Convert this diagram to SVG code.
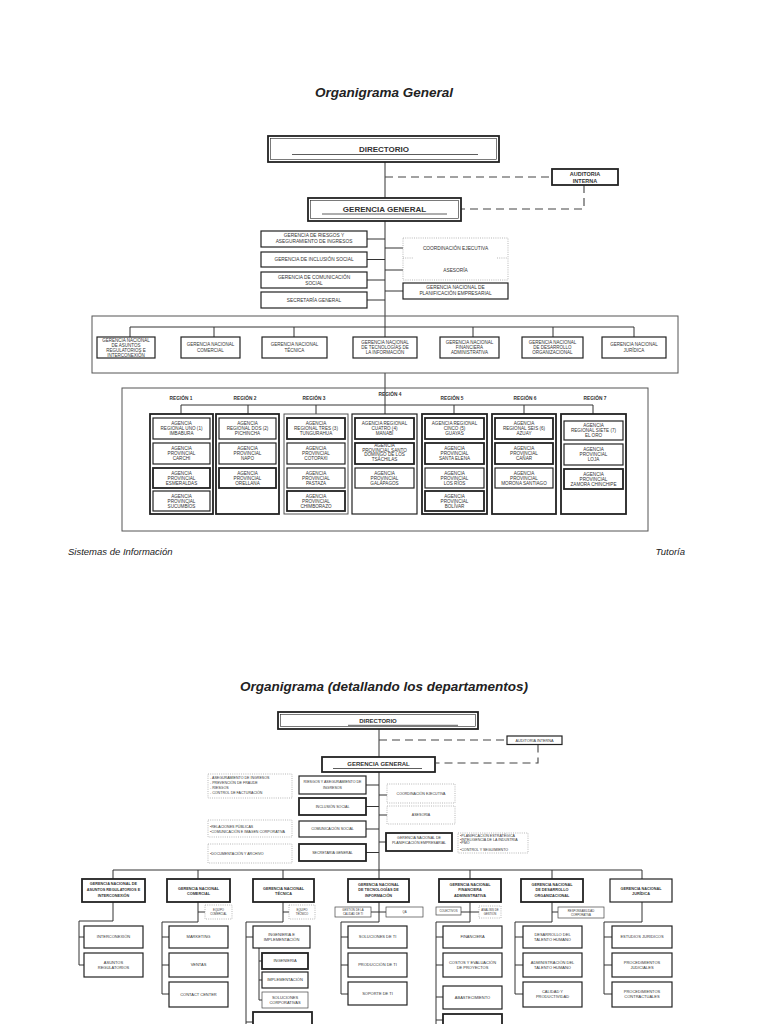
<svg xmlns="http://www.w3.org/2000/svg" width="768" height="1024" viewBox="0 0 768 1024">
<style>
text{font-family:"Liberation Sans",Arial,sans-serif;fill:#333;text-anchor:middle}
.title{font-size:13.5px;font-weight:bold;font-style:italic;fill:#222}
.foot{font-size:9.5px;font-style:italic;fill:#222}
.b{fill:#fff;stroke:#222;stroke-width:1.2}
.bt{fill:#fff;stroke:#222;stroke-width:1.8}
.bn{fill:#fff;stroke:#444;stroke-width:0.7}
.in{fill:none;stroke:#222;stroke-width:0.6}
.frame{fill:none;stroke:#555;stroke-width:1}
.dot{fill:none;stroke:#999;stroke-width:0.7;stroke-dasharray:1 1.2}
.ul{stroke:#333;stroke-width:0.8}
.ln{fill:none;stroke:#333;stroke-width:1}
.dash{fill:none;stroke:#444;stroke-width:1.1;stroke-dasharray:8 5}
.l{text-anchor:start}
</style>

<text x="384" y="97" class="title">Organigrama General</text>

<g id="connectors-top">
<path class="ln" d="M385 162V198M385 221V337M385 373V414M367 239H385M367 259.5H385M367 280H385M367 300H385M385 248H403M385 270H403M385 291H403M130 327H634M130 327V337M214 327V337M294 327V337M473 327V337M553 327V337M634 327V337M181 405H593M181 405V414M248 405V414M316 405V414M454 405V414M524 405V414M593 405V414"/>
<path class="dash" d="M385 177H552M584 185V209H461"/>
</g>

<g id="t-directorio">
<rect x="268" y="136" width="231" height="26" class="bt"/>
<rect x="270.5" y="138.5" width="226" height="21" class="in"/>
<text x="384" y="151.5" font-size="8" font-weight="bold">DIRECTORIO</text>
<line x1="292" y1="154.5" x2="478" y2="154.5" class="ul"/>
</g>
<g id="t-auditoria">
<rect x="552" y="169" width="66" height="16" class="bt"/>
<text x="585" y="175.5" font-size="5.5" font-weight="bold">AUDITORIA</text>
<text x="585" y="182.5" font-size="5.5" font-weight="bold">INTERNA</text>
</g>
<g id="t-gerencia-general">
<rect x="308" y="198" width="153" height="23" class="bt"/>
<rect x="310.5" y="200.5" width="148" height="18" class="in"/>
<text x="384.5" y="212" font-size="8" font-weight="bold">GERENCIA GENERAL</text>
<line x1="322" y1="214" x2="447" y2="214" class="ul"/>
</g>

<g font-size="4.8">
<g id="t-riesgos"><rect x="261" y="231" width="106" height="16" class="b"/><text x="314" y="237">GERENCIA DE RIESGOS Y</text><text x="314" y="242.8">ASEGURAMIENTO DE INGRESOS</text></g>
<g id="t-inclusion"><rect x="261" y="252" width="106" height="15" class="b"/><text x="314" y="261.2">GERENCIA DE INCLUSIÓN SOCIAL</text></g>
<g id="t-comunicacion"><rect x="261" y="272" width="106" height="16" class="b"/><text x="314" y="278.5">GERENCIA DE COMUNICACIÓN</text><text x="314" y="284.8">SOCIAL</text></g>
<g id="t-secretaria"><rect x="261" y="292" width="106" height="16" class="b"/><text x="314" y="301.7">SECRETARÍA GENERAL</text></g>
<g id="t-coordinacion"><rect x="403" y="238" width="105" height="42" class="dot"/><path class="dot" d="M403 258H413M497 258H508"/><text x="455.5" y="250">COORDINACIÓN EJECUTIVA</text><text x="455.5" y="271.7">ASESORÍA</text></g>
<g id="t-planificacion"><rect x="403" y="283" width="105" height="16" class="b"/><text x="455.5" y="288.6">GERENCIA NACIONAL DE</text><text x="455.5" y="295">PLANIFICACIÓN EMPRESARIAL</text></g>
</g>

<rect id="t-frame-gerencias" x="92" y="316" width="586" height="57" class="frame"/>
<g font-size="4.5">
<g id="t-gn-regulatorios"><rect x="97" y="337" width="58" height="21" class="b"/><text x="126" y="341.6">GERENCIA NACIONAL</text><text x="126" y="346.6">DE ASUNTOS</text><text x="126" y="351.6">REGULATORIOS E</text><text x="126" y="356.6">INTERCONEXIÓN</text></g>
<g id="t-gn-comercial"><rect x="181" y="337" width="59" height="21" class="b"/><text x="210.5" y="346">GERENCIA NACIONAL</text><text x="210.5" y="351.7">COMERCIAL</text></g>
<g id="t-gn-tecnica"><rect x="262" y="337" width="65" height="21" class="b"/><text x="294.5" y="346">GERENCIA NACIONAL</text><text x="294.5" y="351.7">TÉCNICA</text></g>
<g id="t-gn-ti"><rect x="353" y="337" width="64" height="21" class="b"/><text x="385" y="343.6">GERENCIA NACIONAL</text><text x="385" y="348.6">DE TECNOLOGÍAS DE</text><text x="385" y="353.6">LA INFORMACIÓN</text></g>
<g id="t-gn-financiera"><rect x="440" y="337" width="59" height="21" class="b"/><text x="469.5" y="343.6">GERENCIA NACIONAL</text><text x="469.5" y="348.6">FINANCIERA</text><text x="469.5" y="353.6">ADMINISTRATIVA</text></g>
<g id="t-gn-desarrollo"><rect x="522" y="337" width="61" height="21" class="b"/><text x="552.5" y="343.6">GERENCIA NACIONAL</text><text x="552.5" y="348.6">DE DESARROLLO</text><text x="552.5" y="353.6">ORGANIZACIONAL</text></g>
<g id="t-gn-juridica"><rect x="602" y="337" width="64" height="21" class="b"/><text x="634" y="346">GERENCIA NACIONAL</text><text x="634" y="351.7">JURÍDICA</text></g>
</g>

<rect id="t-frame-regiones" x="122" y="388" width="526" height="143" class="frame"/>
<g font-size="4.8" font-weight="bold">
<text x="181" y="400">REGIÓN 1</text><text x="245" y="400">REGIÓN 2</text><text x="314" y="400">REGIÓN 3</text><text x="390" y="395.5">REGIÓN 4</text><text x="452" y="400">REGIÓN 5</text><text x="525" y="400">REGIÓN 6</text><text x="595" y="400">REGIÓN 7</text>
</g>

<g font-size="4.6">
<g id="t-region1">
<rect x="150" y="414" width="63" height="100" class="bt"/>
<rect x="153" y="418" width="57" height="21" class="b"/><text x="181.5" y="425.1">AGENCIA</text><text x="181.5" y="430.1">REGIONAL UNO (1)</text><text x="181.5" y="435.1">IMBABURA</text>
<rect x="153" y="443" width="57" height="21" class="b"/><text x="181.5" y="450.1">AGENCIA</text><text x="181.5" y="455.1">PROVINCIAL</text><text x="181.5" y="460.1">CARCHI</text>
<rect x="153" y="468" width="57" height="20" class="bt"/><text x="181.5" y="474.6">AGENCIA</text><text x="181.5" y="479.6">PROVINCIAL</text><text x="181.5" y="484.6">ESMERALDAS</text>
<rect x="153" y="491" width="57" height="20" class="b"/><text x="181.5" y="497.6">AGENCIA</text><text x="181.5" y="502.6">PROVINCIAL</text><text x="181.5" y="507.6">SUCUMBÍOS</text>
</g>
<g id="t-region2">
<rect x="216" y="414" width="63" height="100" class="bt"/>
<rect x="219" y="418" width="57" height="21" class="b"/><text x="247.5" y="425.1">AGENCIA</text><text x="247.5" y="430.1">REGIONAL DOS (2)</text><text x="247.5" y="435.1">PICHINCHA</text>
<rect x="219" y="443" width="57" height="21" class="b"/><text x="247.5" y="450.1">AGENCIA</text><text x="247.5" y="455.1">PROVINCIAL</text><text x="247.5" y="460.1">NAPO</text>
<rect x="219" y="468" width="57" height="20" class="bt"/><text x="247.5" y="474.6">AGENCIA</text><text x="247.5" y="479.6">PROVINCIAL</text><text x="247.5" y="484.6">ORELLANA</text>
</g>
<g id="t-region3">
<rect x="284" y="414" width="64" height="100" class="frame"/>
<rect x="287" y="418" width="58" height="21" class="bt"/><text x="316" y="425.1">AGENCIA</text><text x="316" y="430.1">REGIONAL TRES (3)</text><text x="316" y="435.1">TUNGURAHUA</text>
<rect x="287" y="443" width="58" height="21" class="b"/><text x="316" y="450.1">AGENCIA</text><text x="316" y="455.1">PROVINCIAL</text><text x="316" y="460.1">COTOPAXI</text>
<rect x="287" y="468" width="58" height="20" class="b"/><text x="316" y="474.6">AGENCIA</text><text x="316" y="479.6">PROVINCIAL</text><text x="316" y="484.6">PASTAZA</text>
<rect x="287" y="491" width="58" height="20" class="bt"/><text x="316" y="497.6">AGENCIA</text><text x="316" y="502.6">PROVINCIAL</text><text x="316" y="507.6">CHIMBORAZO</text>
</g>
<g id="t-region4">
<rect x="352" y="414" width="65" height="100" class="b"/>
<rect x="355" y="418" width="59" height="21" class="bt"/><text x="384.5" y="425.1">AGENCIA REGIONAL</text><text x="384.5" y="430.1">CUATRO (4)</text><text x="384.5" y="435.1">MANABÍ</text>
<rect x="355" y="443" width="59" height="21" class="bt"/><text x="384.5" y="447.2">AGENCIA</text><text x="384.5" y="451.8">PROVINCIAL SANTO</text><text x="384.5" y="456.4">DOMINGO DE LOS</text><text x="384.5" y="461">TSÁCHILAS</text>
<rect x="355" y="468" width="59" height="20" class="b"/><text x="384.5" y="474.6">AGENCIA</text><text x="384.5" y="479.6">PROVINCIAL</text><text x="384.5" y="484.6">GALÁPAGOS</text>
</g>
<g id="t-region5">
<rect x="422" y="414" width="65" height="100" class="bt"/>
<rect x="425" y="418" width="59" height="21" class="bt"/><text x="454.5" y="425.1">AGENCIA REGIONAL</text><text x="454.5" y="430.1">CINCO (5)</text><text x="454.5" y="435.1">GUAYAS</text>
<rect x="425" y="443" width="59" height="21" class="bt"/><text x="454.5" y="450.1">AGENCIA</text><text x="454.5" y="455.1">PROVINCIAL</text><text x="454.5" y="460.1">SANTA ELENA</text>
<rect x="425" y="468" width="59" height="20" class="b"/><text x="454.5" y="474.6">AGENCIA</text><text x="454.5" y="479.6">PROVINCIAL</text><text x="454.5" y="484.6">LOS RÍOS</text>
<rect x="425" y="491" width="59" height="20" class="bt"/><text x="454.5" y="497.6">AGENCIA</text><text x="454.5" y="502.6">PROVINCIAL</text><text x="454.5" y="507.6">BOLÍVAR</text>
</g>
<g id="t-region6">
<rect x="492" y="414" width="64" height="100" class="bt"/>
<rect x="495" y="418" width="58" height="21" class="bt"/><text x="524" y="425.1">AGENCIA</text><text x="524" y="430.1">REGIONAL SEIS (6)</text><text x="524" y="435.1">AZUAY</text>
<rect x="495" y="443" width="58" height="21" class="bt"/><text x="524" y="450.1">AGENCIA</text><text x="524" y="455.1">PROVINCIAL</text><text x="524" y="460.1">CAÑAR</text>
<rect x="495" y="468" width="58" height="20" class="b"/><text x="524" y="474.6">AGENCIA</text><text x="524" y="479.6">PROVINCIAL</text><text x="524" y="484.6">MORONA SANTIAGO</text>
</g>
<g id="t-region7">
<rect x="561" y="414" width="65" height="100" class="bt"/>
<rect x="564" y="421" width="59" height="19" class="b"/><text x="593.5" y="426.6">AGENCIA</text><text x="593.5" y="431.6">REGIONAL SIETE (7)</text><text x="593.5" y="436.6">EL ORO</text>
<rect x="564" y="444" width="59" height="21" class="b"/><text x="593.5" y="451.1">AGENCIA</text><text x="593.5" y="456.1">PROVINCIAL</text><text x="593.5" y="461.1">LOJA</text>
<rect x="564" y="469" width="59" height="20" class="bt"/><text x="593.5" y="475.6">AGENCIA</text><text x="593.5" y="480.6">PROVINCIAL</text><text x="593.5" y="485.6">ZAMORA CHINCHIPE</text>
</g>
</g>

<text x="68" y="555" class="foot l">Sistemas de Información</text>
<text x="685" y="555" class="foot" style="text-anchor:end">Tutoría</text>

<text x="384" y="691" class="title">Organigrama (detallando los departamentos)</text>

<g id="connectors-bottom">
<path class="ln" d="M379 729V757M379 772V879M366 785H379M366 806.5H379M366 829H379M366 852.5H379M379 795H387M379 815H387M379 842H386M113 870H642M113 870V879M198 870V879M283 870V879M470 870V879M552 870V879M642 870V879"/>
<path class="dash" d="M379 740H507M538 744.5V763H436"/>
<path class="ln" d="M113 902V921H79V965M79 937H84M79 965H84"/>
<path class="ln" d="M198 902V922H162V994M162 937H169M162 965H169M162 994H169M198 912H205"/>
<path class="ln" d="M283 902V922H246V1024M246 937H253M246 1022H253M283 912H289M259 948V1000M259 961H262M259 980H262M259 1000H262"/>
<path class="ln" d="M379 902V922H341V994M341 937H348M341 965H348M341 994H348M371 912H386"/>
<path class="ln" d="M470 902V922H436V1024M436 937H443M436 965H443M436 997H443M436 1020H443M461 912H479"/>
<path class="ln" d="M552 902V922H515V994M515 937H523M515 965H523M515 994H523M552 912H558"/>
<path class="ln" d="M642 902V922H604V994M604 937H612M604 965H612M604 994H612"/>
</g>

<g id="b-directorio">
<rect x="278" y="712" width="200" height="17" class="bt"/>
<rect x="280.5" y="714.5" width="195" height="12" class="in"/>
<text x="378" y="723" font-size="6" font-weight="bold">DIRECTORIO</text>
<line x1="348" y1="725.3" x2="458" y2="725.3" class="ul"/>
</g>
<g id="b-auditoria">
<rect x="507" y="736" width="55" height="8.5" class="b"/>
<text x="534.5" y="741.6" font-size="3.8">AUDITORÍA INTERNA</text>
</g>
<g id="b-gerencia-general">
<rect x="322" y="757" width="113" height="15" class="bt"/>
<text x="378.5" y="766.4" font-size="6" font-weight="bold">GERENCIA GENERAL</text>
<line x1="333" y1="768.5" x2="422" y2="768.5" class="ul"/>
</g>

<g font-size="3.6">
<g id="b-riesgos"><rect x="299" y="776" width="67" height="18" class="b"/><text x="332.5" y="783">RIESGOS Y ASEGURAMIENTO DE</text><text x="332.5" y="789.3">INGRESOS</text></g>
<g id="b-inclusion"><rect x="299" y="798" width="67" height="17" class="bt"/><text x="332.5" y="807.8">INCLUSIÓN SOCIAL</text></g>
<g id="b-comunicacion"><rect x="299" y="821" width="67" height="16" class="b"/><text x="332.5" y="830.3">COMUNICACIÓN SOCIAL</text></g>
<g id="b-secretaria"><rect x="299" y="844" width="67" height="17" class="bt"/><text x="332.5" y="853.8">SECRETARÍA GENERAL</text></g>
<g id="b-nota-riesgos"><rect x="208" y="774" width="84" height="24" class="dot"/><text x="210" y="779" class="l">- ASEGURAMIENTO DE INGRESOS</text><text x="210" y="784" class="l">- PREVENCIÓN DE FRAUDE</text><text x="210" y="788.7" class="l">- RIESGOS</text><text x="210" y="794" class="l">- CONTROL DE FACTURACIÓN</text></g>
<g id="b-nota-comunicacion"><rect x="208" y="820" width="84" height="17" class="dot"/><text x="210" y="828" class="l">•RELACIONES PÚBLICAS</text><text x="210" y="833" class="l">•COMUNICACIÓN E IMAGEN CORPORATIVA</text></g>
<g id="b-nota-secretaria"><rect x="208" y="844" width="84" height="19" class="dot"/><text x="210" y="855.3" class="l">•DOCUMENTACIÓN Y ARCHIVO</text></g>
<g id="b-coordinacion"><rect x="387" y="784" width="68" height="19" class="dot"/><text x="421" y="794.6">COORDINACIÓN EJECUTIVA</text></g>
<g id="b-asesoria"><rect x="387" y="806" width="68" height="18" class="dot"/><text x="421" y="815.6">ASESORÍA</text></g>
<g id="b-planificacion"><rect x="386" y="833" width="66" height="18" class="bt"/><text x="419" y="839.3">GERENCIA NACIONAL DE</text><text x="419" y="844.3">PLANIFICACIÓN EMPRESARIAL</text></g>
<g id="b-nota-planificacion"><rect x="458" y="833" width="70" height="20" class="dot"/><text x="460" y="836.6" class="l">•PLANIFICACIÓN ESTRATÉGICA</text><text x="460" y="840.6" class="l">•INTELIGENCIA DE LA INDUSTRIA</text><text x="460" y="844.4" class="l">•PMO</text><text x="460" y="850.6" class="l">•CONTROL Y SEGUIMIENTO</text></g>
</g>

<g font-size="3.8" font-weight="bold">
<g id="b-gn-regulatorios"><rect x="82" y="879" width="63" height="23" class="bt"/><text x="113.5" y="885.3">GERENCIA NACIONAL DE</text><text x="113.5" y="890.6">ASUNTOS REGULATORIOS E</text><text x="113.5" y="897.3">INTERCONEXIÓN</text></g>
<g id="b-gn-comercial"><rect x="167" y="879" width="63" height="23" class="bt"/><text x="198.5" y="889.6">GERENCIA NACIONAL</text><text x="198.5" y="895.3">COMERCIAL</text></g>
<g id="b-gn-tecnica"><rect x="253" y="879" width="61" height="23" class="bt"/><text x="283.5" y="889.6">GERENCIA NACIONAL</text><text x="283.5" y="895.3">TÉCNICA</text></g>
<g id="b-gn-ti"><rect x="348" y="879" width="61" height="23" class="bt"/><text x="378.5" y="886.3">GERENCIA NACIONAL</text><text x="378.5" y="891.3">DE TECNOLOGÍAS DE</text><text x="378.5" y="897.3">INFORMACIÓN</text></g>
<g id="b-gn-financiera"><rect x="439" y="879" width="62" height="23" class="bt"/><text x="470" y="886.3">GERENCIA NACIONAL</text><text x="470" y="891.3">FINANCIERA</text><text x="470" y="897.3">ADMINISTRATIVA</text></g>
<g id="b-gn-desarrollo"><rect x="521" y="879" width="62" height="23" class="bt"/><text x="552" y="886.3">GERENCIA NACIONAL</text><text x="552" y="891.3">DE DESARROLLO</text><text x="552" y="897.3">ORGANIZACIONAL</text></g>
<g id="b-gn-juridica"><rect x="610" y="879" width="62" height="23" class="b"/><text x="641" y="889.6">GERENCIA NACIONAL</text><text x="641" y="895.3">JURÍDICA</text></g>
</g>

<g font-size="2.8">
<g id="b-equipo-comercial"><rect x="205" y="905" width="27" height="14" class="dot"/><text x="218.5" y="911">EQUIPO</text><text x="218.5" y="915">COMERCIAL</text></g>
<g id="b-equipo-tecnico"><rect x="289" y="905" width="26" height="14" class="dot"/><text x="302" y="911">EQUIPO</text><text x="302" y="915">TÉCNICO</text></g>
<g id="b-gestion-calidad"><rect x="335" y="907" width="36" height="10" class="bn"/><text x="353" y="911.3">GESTIÓN DE LA</text><text x="353" y="915">CALIDAD DE TI</text></g>
<g id="b-qa"><rect x="386" y="907" width="37" height="10" class="bn"/><text x="404.5" y="913">QA</text></g>
<g id="b-colectivos"><rect x="436" y="907" width="25" height="8" class="bn"/><text x="448.5" y="912">COLECTIVOS</text></g>
<g id="b-analisis"><rect x="479" y="906" width="22" height="12" class="dot"/><text x="490" y="911">ANÁLISIS DE</text><text x="490" y="915">GESTIÓN</text></g>
<g id="b-responsabilidad"><rect x="558" y="907" width="46" height="11" class="bn"/><text x="581" y="911.5">RESPONSABILIDAD</text><text x="581" y="915.5">CORPORATIVA</text></g>
</g>

<g font-size="4">
<g id="b-interconexion"><rect x="84" y="926" width="59" height="22" class="b"/><text x="113.5" y="938.4">INTERCONEXIÓN</text></g>
<g id="b-asuntos-regulatorios"><rect x="84" y="953" width="59" height="24" class="b"/><text x="113.5" y="964">ASUNTOS</text><text x="113.5" y="968.6">REGULATORIOS</text></g>
<g id="b-marketing"><rect x="169" y="926" width="59" height="22" class="b"/><text x="198.5" y="938.4">MARKETING</text></g>
<g id="b-ventas"><rect x="169" y="953" width="59" height="24" class="b"/><text x="198.5" y="966.4">VENTAS</text></g>
<g id="b-contact"><rect x="169" y="982" width="59" height="25" class="b"/><text x="198.5" y="995.9">CONTACT CENTER</text></g>
<g id="b-ing-impl"><rect x="253" y="926" width="57" height="22" class="b"/><text x="281.5" y="935.5">INGENIERÍA E</text><text x="281.5" y="941">IMPLEMENTACIÓN</text></g>
<g id="b-ingenieria"><rect x="262" y="953" width="46" height="16" class="bt"/><text x="285" y="962.4">INGENIERÍA</text></g>
<g id="b-implementacion"><rect x="262" y="972" width="46" height="16" class="b"/><text x="285" y="981.4">IMPLEMENTACIÓN</text></g>
<g id="b-soluciones-corp"><rect x="262" y="992" width="46" height="16" class="bn"/><text x="285" y="998.8">SOLUCIONES</text><text x="285" y="1003.6">CORPORATIVAS</text></g>
<g id="b-tecnica-inferior"><rect x="253" y="1012" width="59" height="20" class="bt"/></g>
<g id="b-soluciones-ti"><rect x="348" y="926" width="59" height="22" class="b"/><text x="377.5" y="938.4">SOLUCIONES DE TI</text></g>
<g id="b-produccion-ti"><rect x="348" y="953" width="59" height="24" class="b"/><text x="377.5" y="966.4">PRODUCCIÓN DE TI</text></g>
<g id="b-soporte-ti"><rect x="348" y="982" width="59" height="23" class="b"/><text x="377.5" y="994.9">SOPORTE DE TI</text></g>
<g id="b-financiera"><rect x="443" y="926" width="59" height="22" class="b"/><text x="472.5" y="938.4">FINANCIERA</text></g>
<g id="b-costos"><rect x="443" y="953" width="59" height="24" class="b"/><text x="472.5" y="963.5">COSTOS Y EVALUACIÓN</text><text x="472.5" y="968.5">DE PROYECTOS</text></g>
<g id="b-abastecimiento"><rect x="443" y="986" width="59" height="23" class="b"/><text x="472.5" y="998.9">ABASTECIMIENTO</text></g>
<g id="b-financiera-inferior"><rect x="443" y="1014" width="59" height="20" class="bt"/></g>
<g id="b-desarrollo-th"><rect x="523" y="926" width="59" height="22" class="b"/><text x="552.5" y="935.5">DESARROLLO DEL</text><text x="552.5" y="941">TALENTO HUMANO</text></g>
<g id="b-administracion-th"><rect x="523" y="953" width="59" height="24" class="b"/><text x="552.5" y="963.5">ADMINISTRACIÓN DEL</text><text x="552.5" y="968.5">TALENTO HUMANO</text></g>
<g id="b-calidad"><rect x="523" y="982" width="59" height="25" class="b"/><text x="552.5" y="992.8">CALIDAD Y</text><text x="552.5" y="997.8">PRODUCTIVIDAD</text></g>
<g id="b-estudios"><rect x="612" y="926" width="60" height="22" class="b"/><text x="642" y="938.4">ESTUDIOS JURÍDICOS</text></g>
<g id="b-proc-judiciales"><rect x="612" y="953" width="60" height="24" class="b"/><text x="642" y="963.5">PROCEDIMIENTOS</text><text x="642" y="968.5">JUDICIALES</text></g>
<g id="b-proc-contractuales"><rect x="612" y="982" width="60" height="25" class="b"/><text x="642" y="992.8">PROCEDIMIENTOS</text><text x="642" y="997.8">CONTRACTUALES</text></g>
</g>
</svg>
